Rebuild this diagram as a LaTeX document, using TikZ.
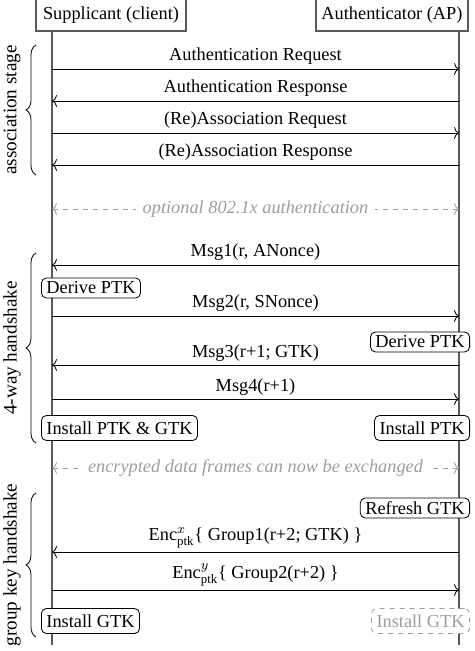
\documentclass[tikz,border=0pt]{standalone}
\usepackage{fontspec}
\usepackage{amsmath}
\setmainfont{Liberation Serif}
\usetikzlibrary{decorations.pathreplacing,arrows.meta}
\definecolor{lifegray}{gray}{0.35}
\definecolor{softgray}{gray}{0.62}
\begin{document}
\begin{tikzpicture}[x=0.6pt,y=-0.6pt,
  every node/.style={font=\fontsize{11}{13}\selectfont},
  actor/.style={draw=lifegray,line width=0.7pt,minimum height=19.2pt,inner sep=2pt},
  life/.style={draw=lifegray,line width=0.7pt},
  msg/.style={draw=black,line width=0.5pt,-{To[length=3pt,width=7pt]}},
  lbl/.style={anchor=base,yshift=4.8pt,inner sep=0pt},
  encl/.style={anchor=base,yshift=7.2pt,inner sep=0pt},
  opt/.style={draw=softgray,line width=0.5pt,dashed,{To[length=3pt,width=7pt]}-{To[length=3pt,width=7pt]}},
  optl/.style={fill=white,text=softgray,font=\fontsize{11}{13}\selectfont\itshape,inner xsep=4pt,inner ysep=1pt},
  act/.style={draw=black,line width=0.5pt,rounded corners=3pt,fill=white,inner xsep=3pt,inner ysep=1pt,minimum height=12pt},
  inst/.style={act,minimum height=15pt},
  ghost/.style={act,minimum height=15pt,draw=softgray,dashed,text=softgray},
  grp/.style={draw=black,line width=0.5pt,decorate,decoration={brace,amplitude=6pt}},
  grpl/.style={rotate=90,font=\fontsize{11.5}{13}\selectfont}]
\useasboundingbox (0,0) rectangle (474,651);

% actors
\node[actor,minimum width=90pt] (sup) at (111,15) {Supplicant (client)};
\node[actor,minimum width=91.2pt] (auth) at (392,15) {Authenticator (AP)};

% lifelines
\coordinate (ltop) at (52,31);
\coordinate (lbot) at (52,645);
\coordinate (rtop) at (459,31);
\coordinate (rbot) at (459,645);
\draw[life] (ltop) -- (lbot);
\draw[life] (rtop) -- (rbot);

% message rows
\foreach \n/\y in {a1/69,a2/101,a3/133,a4/165,o1/209,m1/265,m2/316,m3/365,m4/399,o2/468,g1/552,g2/590}{
  \coordinate (\n L) at (52,\y);
  \coordinate (\n R) at (459,\y);
}

\draw[msg] (a1L) -- node[lbl] {Authentication Request} (a1R);
\draw[msg] (a2R) -- node[lbl] {Authentication Response} (a2L);
\draw[msg] (a3L) -- node[lbl] {(Re)Association Request} (a3R);
\draw[msg] (a4R) -- node[lbl] {(Re)Association Response} (a4L);

\draw[opt] (o1L) -- node[optl] {optional 802.1x authentication} (o1R);

\draw[msg] (m1R) -- node[lbl] {Msg1(r, ANonce)} (m1L);
\draw[msg] (m2L) -- node[lbl] {Msg2(r, SNonce)} (m2R);
\draw[msg] (m3R) -- node[lbl] {Msg3(r+1; GTK)} (m3L);
\draw[msg] (m4L) -- node[lbl] {Msg4(r+1)} (m4R);

\draw[opt] (o2L) -- node[optl] {encrypted data frames can now be exchanged} (o2R);

\draw[msg] (g1R) -- node[encl] {Enc$^{x}_{\text{ptk}}$\{ Group1(r+2; GTK) \}} (g1L);
\draw[msg] (g2L) -- node[encl] {Enc$^{y}_{\text{ptk}}$\{ Group2(r+2) \}} (g2R);

% actions
\node[act,anchor=west] (dpl) at (41,288) {Derive PTK};
\node[act,anchor=east] (dpr) at (470,342) {Derive PTK};
\node[inst,anchor=west] (ipg) at (41,428) {Install PTK \& GTK};
\node[inst,anchor=east] (ipr) at (470,428) {Install PTK};
\node[act,anchor=east] (rg) at (470,508) {Refresh GTK};
\node[inst,anchor=west] (igl) at (41,621) {Install GTK};
\node[ghost,anchor=east] (igr) at (470,621) {Install GTK};

% braces
\coordinate (b1b) at (36,175);
\coordinate (b1t) at (36,45);
\coordinate (b2b) at (36,443);
\coordinate (b2t) at (36,253);
\coordinate (b3b) at (36,637);
\coordinate (b3t) at (36,493);
\draw[grp] (b1b) -- (b1t);
\draw[grp] (b2b) -- (b2t);
\draw[grp] (b3b) -- (b3t);
\node[grpl] (t1) at (12,110) {association stage};
\node[grpl] (t2) at (12,348) {4-way handshake};
\node[grpl] (t3) at (12,565) {group key handshake};
\end{tikzpicture}
\end{document}
